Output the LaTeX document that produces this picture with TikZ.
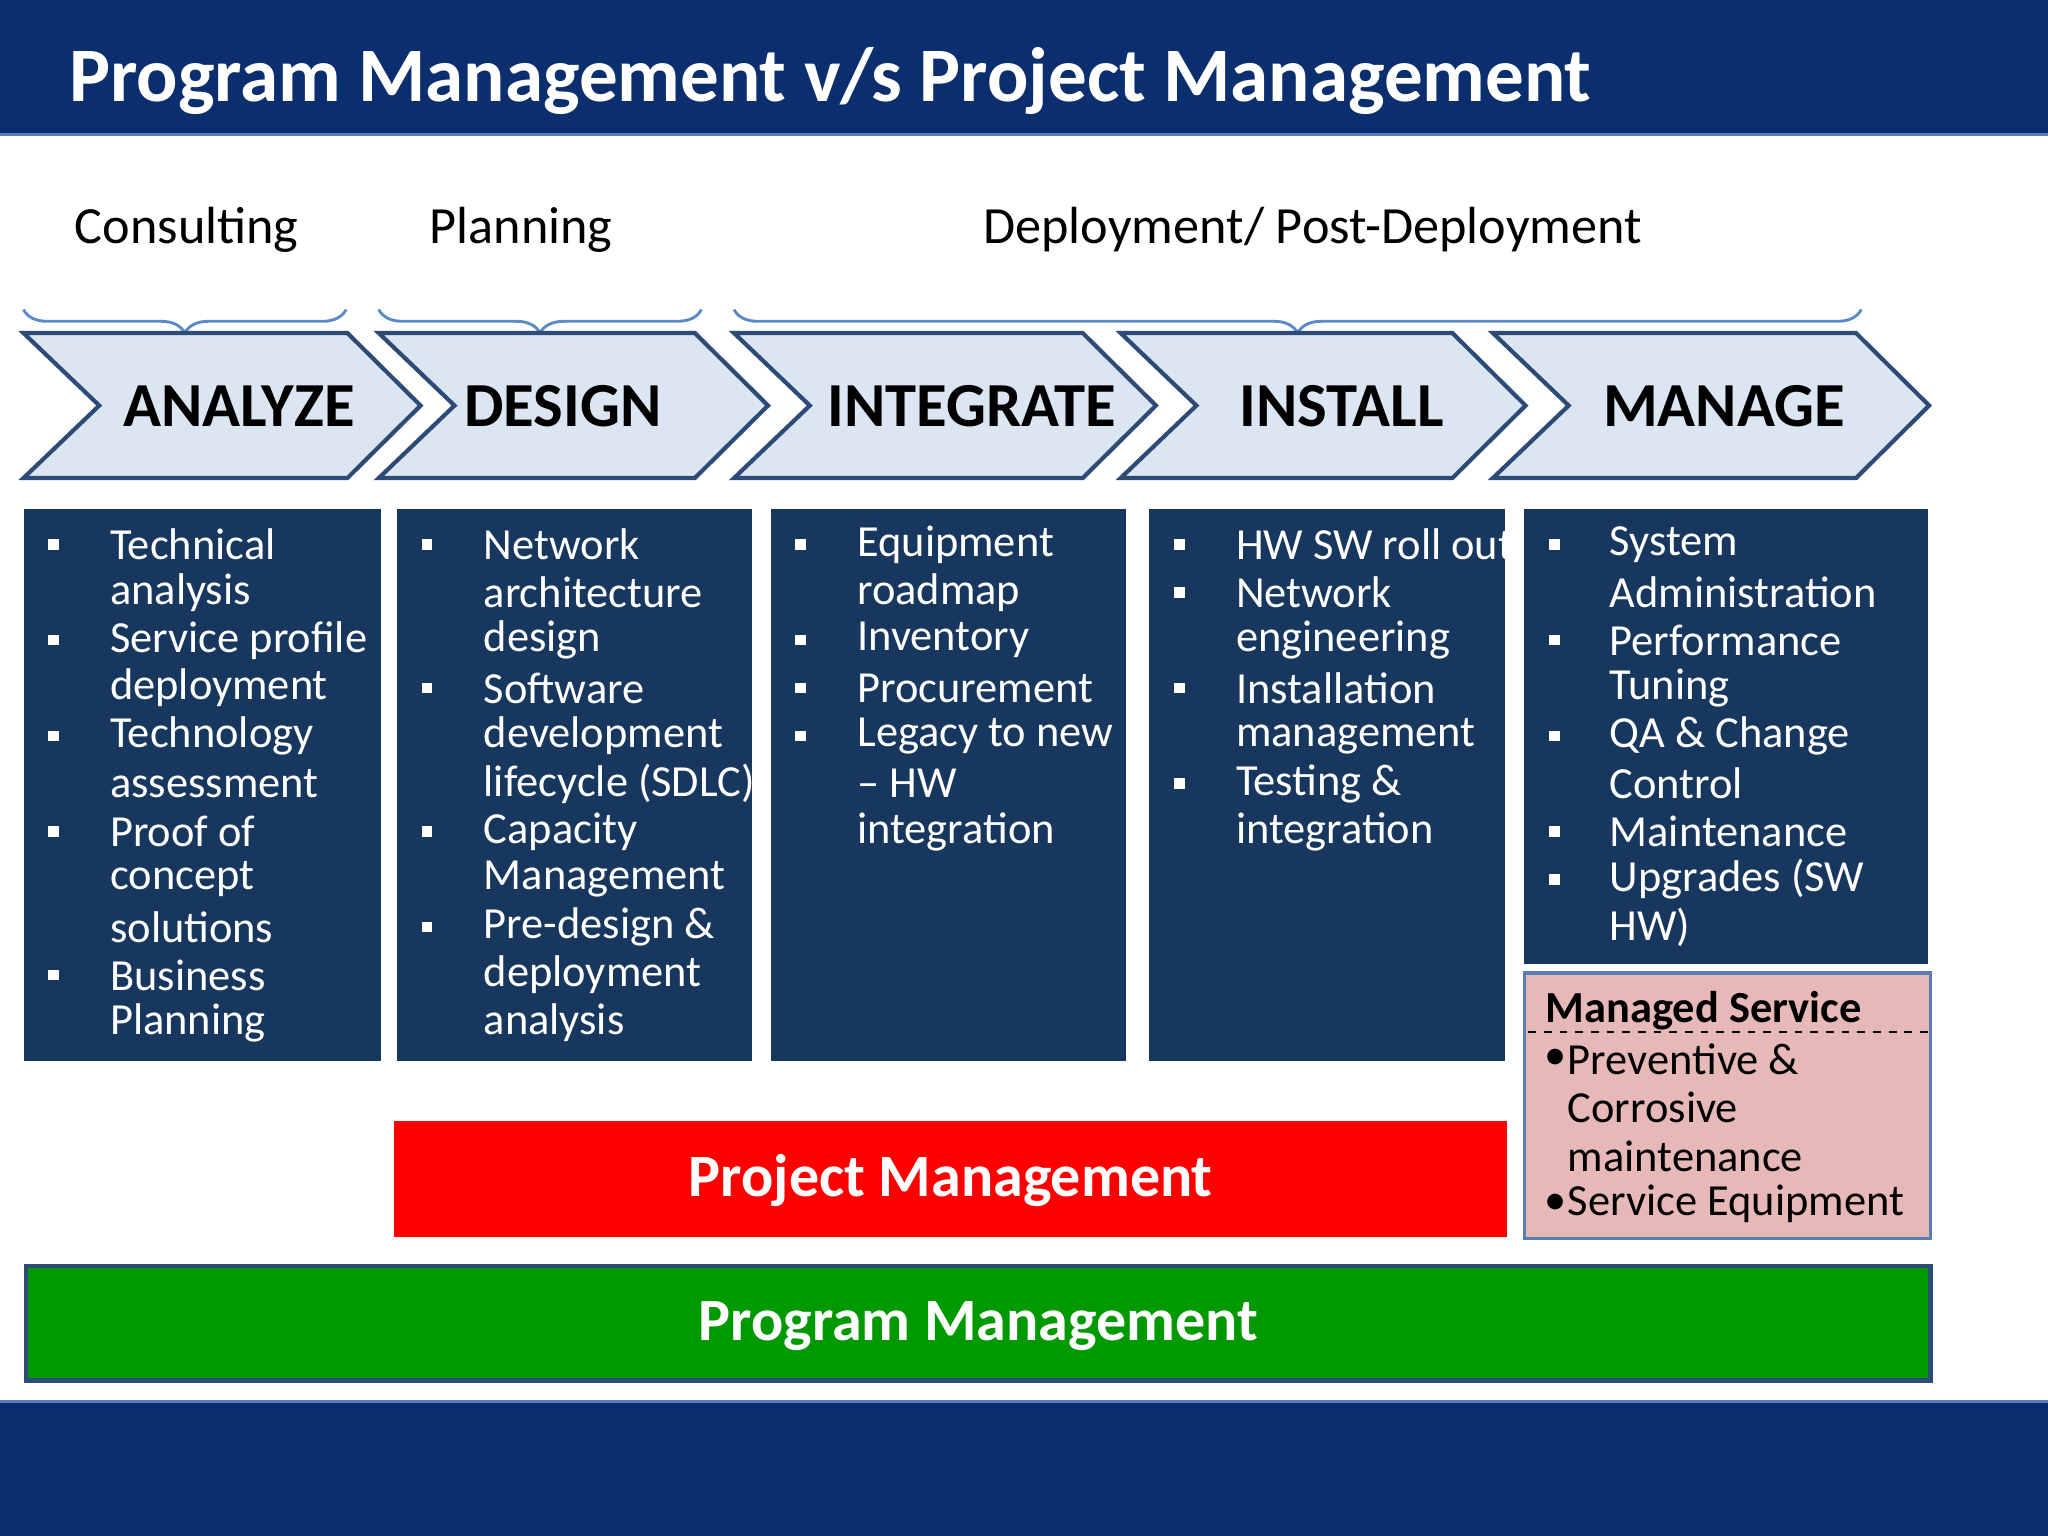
\documentclass[tikz,border=0pt]{standalone}
\usepackage{fontspec}
\setmainfont{Carlito}
\usetikzlibrary{decorations.pathreplacing}
\definecolor{topbar}{HTML}{0B2F6E}
\definecolor{barline}{HTML}{5B7DB5}
\definecolor{navy}{HTML}{17375E}
\definecolor{chevfill}{HTML}{DCE6F2}
\definecolor{chevdraw}{HTML}{2E4A76}
\definecolor{bracec}{HTML}{5B8BC7}
\definecolor{pinkfill}{HTML}{E6B9B8}
\definecolor{greenbar}{HTML}{009900}
\begin{document}
\begin{tikzpicture}[x=0.5pt,y=-0.5pt,
  chev/.style={fill=chevfill,draw=chevdraw,line width=1.6pt,line join=miter},
  chevlab/.style={font=\fontsize{24}{28}\selectfont\bfseries,text=black},
  navybox/.style={fill=navy,draw=none},
  itm/.style={anchor=west,inner sep=0pt,text=white,font=\fontsize{17}{18}\selectfont},
  bul/.style={fill=white,draw=none},
  head/.style={font=\fontsize{20}{24}\selectfont,text=black},
  brc/.style={draw=bracec,line width=1.1pt,decorate,decoration={brace,amplitude=9pt}}]
\useasboundingbox (0,0) rectangle (1568,1176);
\fill[white] (0,0) rectangle (1568,1176);
% top bar
\fill[topbar] (0,0) rectangle (1568,104);
\draw[barline,line width=1.5pt] (0,103) -- (1568,103);
\node[anchor=west,text=white,font=\fontsize{29.5}{34}\selectfont\bfseries] (title) at (46,62) {Program Management v/s Project Management};
% bottom bar
\fill[topbar] (0,1072) rectangle (1568,1176);
\draw[barline,line width=1.5pt] (0,1073) -- (1568,1073);
% headings
\node[head] (h1) at (143,176) {Consulting};
\node[head] (h2) at (399,176) {Planning};
\node[head] (h3) at (1005,176) {Deployment/ Post-Deployment};
\coordinate (b1a) at (18,237); \coordinate (b1b) at (265,237);
\coordinate (b2a) at (290,237); \coordinate (b2b) at (537,237);
\coordinate (b3a) at (562,237); \coordinate (b3b) at (1425,237);
\draw[brc] (b1b) -- (b1a);
\draw[brc] (b2b) -- (b2a);
\draw[brc] (b3b) -- (b3a);
% chevrons
\foreach \a/\b/\n/\t [count=\i] in {18/322/ANALYZE/183,290/588/DESIGN/431,562/885/INTEGRATE/744,858/1168/INSTALL/1027,1143/1477/MANAGE/1320}{
  \draw[chev] (\a,255) -- (\b-56,255) -- (\b,310.5) -- (\b-56,366) -- (\a,366) -- (\a+58,310.5) -- cycle;
  \node[chevlab] (c\i) at (\t,311) {\n};
}
% boxes
\fill[navybox] (18,390) rectangle (292,812);
\fill[navybox] (304,390) rectangle (576,812);
\fill[navybox] (590,390) rectangle (862,812);
\fill[navybox] (880,390) rectangle (1152,812);
\fill[navybox] (1167,390) rectangle (1476,738);
\def\ls{36.6}
% box 1
\foreach \k in {0,2,4,6,9}{\fill[bul] (37,{417+\ls*\k-4}) rectangle +(8,8);}
\foreach \k/\t in {0/Technical,1/analysis,2/Service profile,3/deployment,4/Technology,5/assessment,6/Proof of,7/concept,8/solutions,9/Business,10/Planning}{\node[itm] at (84,{417+\ls*\k}) {\t};}
% box 2
\foreach \k in {0,3,6,8}{\fill[bul] (323,{417+\ls*\k-4}) rectangle +(8,8);}
\foreach \k/\t in {0/Network,1/architecture,2/design,3/Software,4/development,5/lifecycle (SDLC),6/Capacity,7/Management,8/Pre-design \&,9/deployment,10/analysis}{\node[itm] at (370,{417+\ls*\k}) {\t};}
% box 3
\foreach \k in {0,2,3,4}{\fill[bul] (609,{417+\ls*\k-4}) rectangle +(8,8);}
\foreach \k/\t in {0/Equipment,1/roadmap,2/Inventory,3/Procurement,4/Legacy to new,5/– HW/ SW,6/integration}{\node[itm] at (656,{417+\ls*\k}) {\t};}
% box 4
\foreach \k in {0,1,3,5}{\fill[bul] (899,{417+\ls*\k-4}) rectangle +(8,8);}
\foreach \k/\t in {0/HW SW roll out,1/Network,2/engineering,3/Installation,4/management,5/Testing \&,6/integration}{\node[itm] at (946,{417+\ls*\k}) {\t};}
% box 5
\foreach \k in {0,2,4,6,7}{\fill[bul] (1186,{417+\ls*\k-4}) rectangle +(8,8);}
\foreach \k/\t in {0/System,1/Administration,2/Performance,3/Tuning,4/QA \& Change,5/Control,6/Maintenance,7/Upgrades (SW,8/HW)}{\node[itm] at (1232,{417+\ls*\k}) {\t};}
% managed service
\draw[fill=pinkfill,draw=barline,line width=1.2pt] (1167,745) rectangle (1478,948);
\node[anchor=west,inner sep=0pt,font=\fontsize{17}{18}\selectfont\bfseries] (ms) at (1183,774) {Managed Service};
\draw[dashed,line width=0.9pt] (1170,790) -- (1476,790);
\foreach \k/\t in {0/Preventive \&,1/Corrosive,2/maintenance,3/Service Equipment}{\node[anchor=west,inner sep=0pt,font=\fontsize{17}{18}\selectfont] at (1200,{811+37*\k}) {\t};}
\foreach \k in {0,3}{\node[anchor=west,inner sep=0pt,font=\fontsize{17}{18}\selectfont] at (1182,{811+37*\k}) {•};}
% project / program management
\fill[red] (302,858) rectangle (1154,947);
\node[text=white,font=\fontsize{23}{27}\selectfont\bfseries] (pm) at (728,904) {Project Management};
\draw[fill=greenbar,draw=chevdraw,line width=1.6pt] (20,969) rectangle (1478,1057);
\node[text=white,font=\fontsize{23}{27}\selectfont\bfseries] (pg) at (749,1015) {Program Management};
\end{tikzpicture}
\end{document}
